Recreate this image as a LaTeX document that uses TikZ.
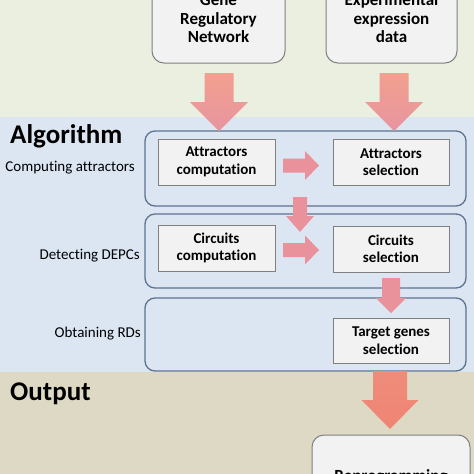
\documentclass[tikz,border=0pt]{standalone}
\usepackage{fontspec}
\setmainfont{Carlito}[Ligatures={NoCommon}]
\usetikzlibrary{calc}
\definecolor{bandtop}{RGB}{235,239,224}
\definecolor{bandalg}{RGB}{220,230,242}
\definecolor{bandout}{RGB}{221,217,196}
\definecolor{grpline}{RGB}{92,116,146}
\definecolor{boxfill}{RGB}{242,242,242}
\definecolor{boxline}{RGB}{127,127,127}
\definecolor{arrA}{RGB}{242,160,143}
\definecolor{arrB}{RGB}{232,148,160}
\definecolor{arrC}{RGB}{233,146,156}
\definecolor{arrD}{RGB}{238,140,122}
\definecolor{arrE}{RGB}{240,132,116}
\newcommand{\blockdown}[6]{%
  \path[#1] let \p1=(#2), \p2=(#3) in
    (\x1-#4pt,\y1) -- (\x1+#4pt,\y1) -- (\x1+#4pt,\y2+#6pt) -- (\x1+#5pt,\y2+#6pt)
    -- (\x1,\y2) -- (\x1-#5pt,\y2+#6pt) -- (\x1-#4pt,\y2+#6pt) -- cycle;}
\newcommand{\blockright}[6]{%
  \path[#1] let \p1=(#2), \p2=(#3) in
    (\x1,\y1-#4pt) -- (\x2-#6pt,\y1-#4pt) -- (\x2-#6pt,\y1-#5pt) -- (\x2,\y1)
    -- (\x2-#6pt,\y1+#5pt) -- (\x2-#6pt,\y1+#4pt) -- (\x1,\y1+#4pt) -- cycle;}
\begin{document}
\begin{tikzpicture}[x=1pt,y=-1pt,
  topbox/.style={draw=boxline,fill=boxfill,line width=1pt,rounded corners=12pt,
    align=center,font=\fontsize{17}{18.5}\selectfont\bfseries,inner sep=0pt},
  stepbox/.style={draw=boxline,fill=boxfill,line width=0.8pt,align=center,
    font=\fontsize{15}{17.5}\selectfont\bfseries,inner sep=0pt,
    minimum width=117pt,minimum height=46pt},
  grpbox/.style={draw=grpline,line width=1.3pt,rounded corners=10pt,
    minimum width=321pt,inner sep=0pt},
  sectlabel/.style={font=\fontsize{27}{30}\selectfont\bfseries,inner sep=0pt},
  steplabel/.style={font=\fontsize{15}{17}\selectfont,inner sep=0pt},
  arrtop/.style={top color=arrA,bottom color=arrB},
  arrmid/.style={fill=arrC},
  arrout/.style={top color=arrD,bottom color=arrE}]
\useasboundingbox (0,0) rectangle (474,474);
\clip (0,0) rectangle (474,474);
% bands
\fill[bandtop] (0,0) rectangle (474,117);
\fill[bandalg] (0,117) rectangle (474,372);
\fill[bandout] (0,372) rectangle (474,474);
% input boxes
\node[topbox,minimum width=133pt,minimum height=89pt] (grn) at (218.5,18.5)
  {Gene\\Regulatory\\Network};
\node[topbox,minimum width=131pt,minimum height=89pt] (expt) at (391.5,18.5)
  {Experimental\\expression\\data};
% section labels
\node[sectlabel,anchor=base west] (alg) at (10,143) {Algorithm};
\node[sectlabel,anchor=base west] (out) at (10,400) {Output};
% groups
\node[grpbox,minimum height=75pt] (g1) at (305.5,168.5) {};
\node[grpbox,minimum height=74pt] (g2) at (305.5,251) {};
\node[grpbox,minimum height=73pt] (g3) at (305.5,334.5) {};
% step labels
\node[steplabel,anchor=base east] (l1) at (135,171) {Computing attractors};
\node[steplabel,anchor=base east] (l2) at (140,259.3) {Detecting DEPCs};
\node[steplabel,anchor=base east] (l3) at (141,337.5) {Obtaining RDs};
% step boxes
\node[stepbox] (ac) at (216.5,162) {Attractors\\computation};
\node[stepbox,minimum width=116pt] (as) at (391,162) {Attractors\\selection};
\node[stepbox] (cc) at (216.5,248) {Circuits\\computation};
\node[stepbox,minimum width=116pt] (cs) at (391,249) {Circuits\\selection};
\node[stepbox,minimum width=116pt,minimum height=45pt] (tg) at (391,340.5) {Target genes\\selection};
% output box
\node[topbox,minimum width=158pt,minimum height=84pt] (rep) at (391,477) {Reprogramming};
% arrow endpoints
\coordinate (a1t) at (219,73);  \coordinate (a1h) at (219,131);
\coordinate (a2t) at (394,73);  \coordinate (a2h) at (394,131);
\coordinate (h1t) at (283,165.5); \coordinate (h1h) at (319,165.5);
\coordinate (h2t) at (283,250); \coordinate (h2h) at (319,250);
\coordinate (v1t) at (300,197); \coordinate (v1h) at (300,232);
\coordinate (v2t) at (391,278); \coordinate (v2h) at (391,313);
\coordinate (a3t) at (390,371); \coordinate (a3h) at (390,429);
% arrows
\blockdown{arrtop}{a1t}{a1h}{14.5}{29}{29}
\blockdown{arrtop}{a2t}{a2h}{14.5}{29}{29}
\blockright{arrmid}{h1t}{h1h}{7}{14.5}{14}
\blockright{arrmid}{h2t}{h2h}{7}{14.5}{14}
\blockdown{arrmid}{v1t}{v1h}{7}{14}{16}
\blockdown{arrmid}{v2t}{v2h}{9}{15}{15}
\blockdown{arrout}{a3t}{a3h}{17}{28.5}{29}
\end{tikzpicture}
\end{document}
